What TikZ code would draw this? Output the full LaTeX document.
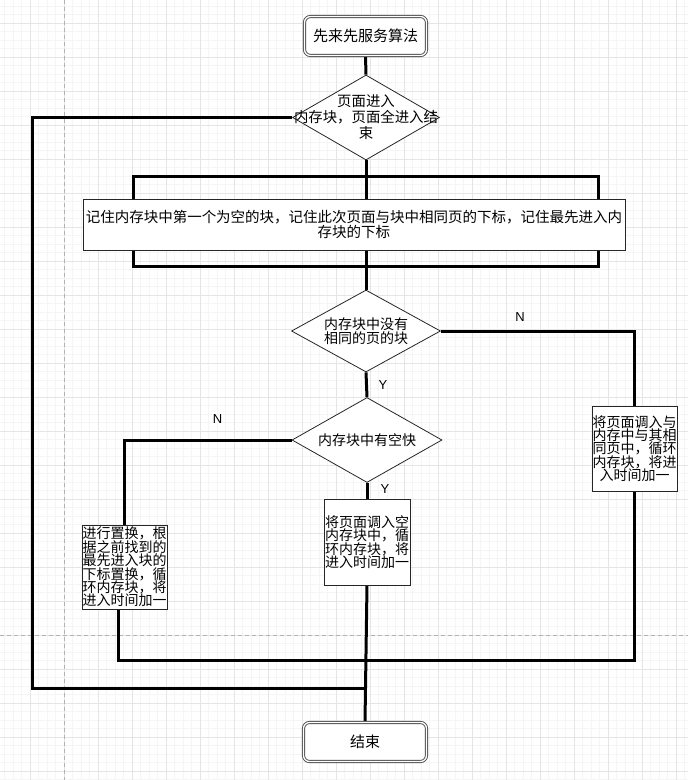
\documentclass[tikz,border=0pt]{standalone}
\usepackage{fontspec}
\newfontfamily\cjk{Noto Sans CJK SC}
\newfontfamily\latin{Liberation Sans}
\usetikzlibrary{shapes.geometric}
\pgfdeclarelayer{grid}
\pgfdeclarelayer{wires}
\pgfsetlayers{grid,wires,main}

\begin{document}
\begin{tikzpicture}[x=1pt,y=-1pt]
  \tikzstyle{MinorGrid}=[draw=black!4,line width=0.8pt]
  \tikzstyle{MajorGrid}=[draw=black!10,line width=0.9pt]
  \tikzstyle{PageEdge}=[draw=black!30,line width=0.8pt,dash pattern=on 4pt off 3pt]
  \tikzstyle{Terminal}=[draw=black!70,double=white,double distance=1.3pt,line width=0.9pt,
                        rounded corners=6pt,fill=white,inner sep=0pt,
                        font=\cjk\fontsize{15}{16}\selectfont]
  \tikzstyle{Decision}=[diamond,draw=black!85,line width=0.8pt,fill=white,inner sep=0pt]
  \tikzstyle{DecisionText}=[align=center,inner sep=0pt,font=\cjk\fontsize{14}{14}\selectfont]
  \tikzstyle{Process}=[rectangle,draw=black!85,line width=0.9pt,fill=white,inner sep=0pt,
                       align=center,font=\cjk\fontsize{14}{13.4}\selectfont]
  \tikzstyle{Wire}=[line width=3pt]
  \tikzstyle{YesNo}=[inner sep=0pt,font=\latin\fontsize{13}{13}\selectfont]
  \useasboundingbox (0,0) rectangle (688,780);
  % background grid
  \begin{pgfonlayer}{grid}
    \fill[white] (0,0) rectangle (688,780);
    \foreach \gx in {4.5,13,...,688} \draw[MinorGrid] (\gx,0) -- (\gx,780);
    \foreach \gy in {6.3,14.8,...,780} \draw[MinorGrid] (0,\gy) -- (688,\gy);
    \foreach \gx in {30,64,...,688} \draw[MajorGrid] (\gx,0) -- (\gx,780);
    \foreach \gy in {23.3,57.3,...,780} \draw[MajorGrid] (0,\gy) -- (688,\gy);
    \draw[PageEdge] (64.3,0) -- (64.3,780);
    \draw[PageEdge] (0,635.7) -- (688,635.7);
  \end{pgfonlayer}
  % nodes
  \node[Terminal,minimum width=122,minimum height=39] (start) at (365.5,36) {先来先服务算法};
  \node[Decision,minimum width=147,minimum height=85,
        label={[DecisionText,font=\cjk\fontsize{14.4}{16}\selectfont]center:页面进入\\内存块，页面全进入结\\束}] (d1) at (366,117.5) {};
  \node[Process,minimum width=542,minimum height=51,font=\cjk\fontsize{14.5}{13.4}\selectfont] (rec) at (354,224.5)
       {记住内存块中第一个为空的块，记住此次页面与块中相同页的下标，记住最先进入内\\存块的下标};
  \node[Decision,minimum width=149,minimum height=82,
        label={[DecisionText]center:内存块中没有\\相同的页的块}] (d2) at (366,331) {};
  \node[Decision,minimum width=150,minimum height=85,
        label={[DecisionText]center:内存块中有空快}] (d3) at (367,440) {};
  \node[Process,minimum width=85,minimum height=85] (rbox) at (634.5,448.5)
       {将页面调入与\\内存中与其相\\同页中，循环\\内存块，将进\\入时间加一};
  \node[Process,minimum width=86,minimum height=86] (mbox) at (367,542)
       {将页面调入空\\内存块中，循\\环内存块，将\\进入时间加一};
  \node[Process,minimum width=85,minimum height=84] (lbox) at (124.5,567)
       {进行置换，根\\据之前找到的\\最先进入块的\\下标置换，循\\环内存块，将\\进入时间加一};
  \node[Terminal,minimum width=123,minimum height=39] (endn) at (365,742) {结束};
  \node[YesNo] (n1) at (520,317) {N};
  \node[YesNo] (y1) at (383,385) {Y};
  \node[YesNo] (n2) at (217.5,419) {N};
  \node[YesNo] (y2) at (385,489.5) {Y};
  \coordinate (lpl) at (32,688);
  \coordinate (lpa) at (133.5,176.5);
  \coordinate (lpb) at (598,266.5);
  \coordinate (rl) at (118,660);
  % connectors
  \begin{pgfonlayer}{wires}
    \draw[Wire] (start.south) -- (d1.north);
    \draw[Wire] (d1.west) -| (lpl) -- (lpl -| endn.north);
    \draw[Wire] (d1.south) -- (d2.north);
    \draw[Wire] (lpa) rectangle (lpb);
    \draw[Wire] (d2.east) -| (rbox.north);
    \draw[Wire] (d2.south) -- (d3.north);
    \draw[Wire] (d3.west) -| (lbox.north);
    \draw[Wire] (d3.south) -- (mbox.north);
    \draw[Wire] (mbox.south) -- (endn.north);
    \draw[Wire] (rbox.south) |- (rl) -- (rl |- lbox.south);
  \end{pgfonlayer}
\end{tikzpicture}
\end{document}
